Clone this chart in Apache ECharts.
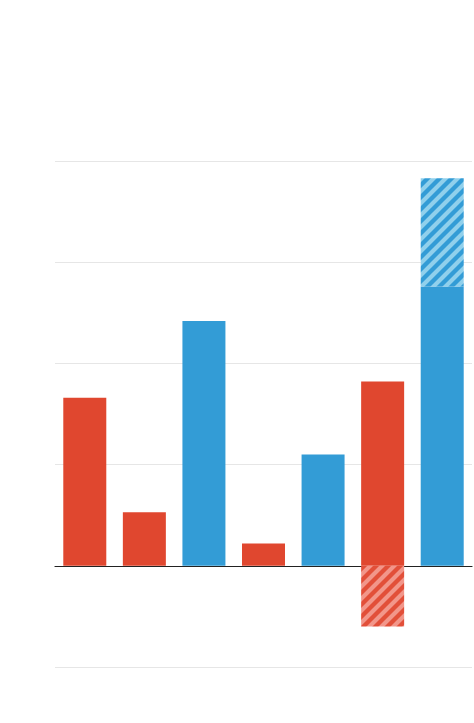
<!DOCTYPE html>
<html>
<head>
<meta charset="utf-8">
<script src="https://cdn.jsdelivr.net/npm/echarts@6/dist/echarts.min.js"></script>
<style>
html,body{margin:0;padding:0;background:#fff;}
#chart{width:474px;height:723px;}
</style>
</head>
<body>
<div id="chart"></div>
<script>
// Data
var categories = ['1', '2', '3', '4', '5', '6', '7'];
var party = ['R', 'R', 'B', 'R', 'B', 'R', 'B'];
var solidValues = [1.66, 0.53, 2.42, 0.22, 1.10, 1.82, 2.76];
var hatchedValues = [null, null, null, null, null, -0.60, 1.07];
var yTicks = [-1, 0, 1, 2, 3, 4];

// Styles
var palette = { R: '#E0472F', B: '#339CD6' };
var hatchPalette = {
  R: { base: '#E24F39', stripe: '#F2968A' },
  B: { base: '#339CD6', stripe: '#90D0EC' }
};

function makeHatch(base, stripe) {
  var s = 12;
  var c = document.createElement('canvas');
  c.width = s; c.height = s;
  var ctx = c.getContext('2d');
  ctx.fillStyle = base;
  ctx.fillRect(0, 0, s, s);
  ctx.strokeStyle = stripe;
  ctx.lineWidth = 4.2;
  ctx.beginPath();
  ctx.moveTo(-2, s + 2); ctx.lineTo(s + 2, -2);
  ctx.moveTo(-s / 2 - 2, s / 2 + 2); ctx.lineTo(s / 2 + 2, -s / 2 - 2);
  ctx.moveTo(s / 2 - 2, s * 1.5 + 2); ctx.lineTo(s * 1.5 + 2, s / 2 - 2);
  ctx.stroke();
  return { image: c, repeat: 'repeat' };
}

var chart = echarts.init(document.getElementById('chart'), null, { renderer: 'canvas' });

var solidData = solidValues.map(function (v, i) {
  return { value: v, itemStyle: { color: palette[party[i]] } };
});
var hatchData = hatchedValues.map(function (v, i) {
  if (v === null) return null;
  var hp = hatchPalette[party[i]];
  return { value: v, itemStyle: { color: makeHatch(hp.base, hp.stripe) } };
});

chart.setOption({
  animation: false,
  grid: { left: 55, right: 2, top: 161, bottom: 56, containLabel: false },
  xAxis: {
    type: 'category',
    data: categories,
    axisLine: { onZero: true, lineStyle: { color: '#222', width: 1.2 } },
    axisTick: { show: false },
    axisLabel: { show: false },
    splitLine: { show: false }
  },
  yAxis: {
    type: 'value',
    min: yTicks[0],
    max: yTicks[yTicks.length - 1],
    interval: 1,
    axisLine: { show: false },
    axisTick: { show: false },
    axisLabel: { show: false },
    splitLine: { show: true, lineStyle: { color: '#e6e6e6', width: 1 } }
  },
  series: [
    {
      type: 'bar',
      stack: 'total',
      barWidth: 43,
      data: solidData
    },
    {
      type: 'bar',
      stack: 'total',
      barWidth: 43,
      data: hatchData
    }
  ]
});
</script>
</body>
</html>
